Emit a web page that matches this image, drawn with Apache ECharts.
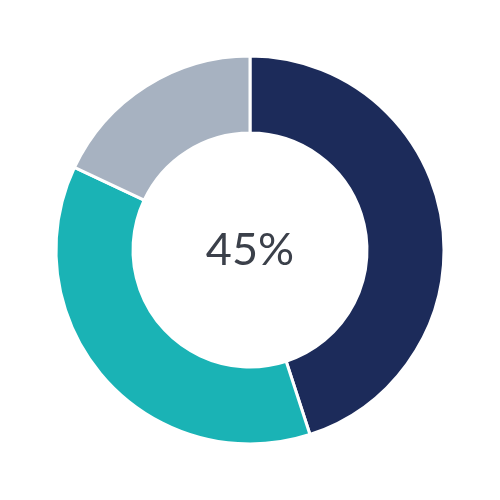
<!DOCTYPE html>
<html><head><meta charset="utf-8">
<script src="https://cdn.jsdelivr.net/npm/echarts@6/dist/echarts.min.js"></script>
<style>html,body{margin:0;padding:0;background:#fff}#c{width:500px;height:500px}</style>
</head><body><div id="c"></div>
<script>
const categories = ['A', 'B', 'C'];
const values = [45, 37, 18];
const colors = ['#1c2b5a', '#1ab3b5', '#a7b2c1'];
const centerLabel = '45%';

const chart = echarts.init(document.getElementById('c'), null, {renderer: 'canvas'});
chart.setOption({
  animation: false,
  backgroundColor: '#ffffff',
  title: {
    text: centerLabel, left: 'center', top: 'middle',
    textStyle: {fontFamily: 'Lato', fontSize: 45, fontWeight: 'normal', color: '#3b404a'}
  },
  series: [{
    type: 'pie',
    center: [250, 250],
    radius: [117, 194],
    startAngle: 90,
    clockwise: true,
    label: {show: false},
    labelLine: {show: false},
    itemStyle: {borderColor: '#ffffff', borderWidth: 3},
    data: categories.map((c, i) => ({name: c, value: values[i], itemStyle: {color: colors[i]}}))
  }]
});
</script></body></html>
